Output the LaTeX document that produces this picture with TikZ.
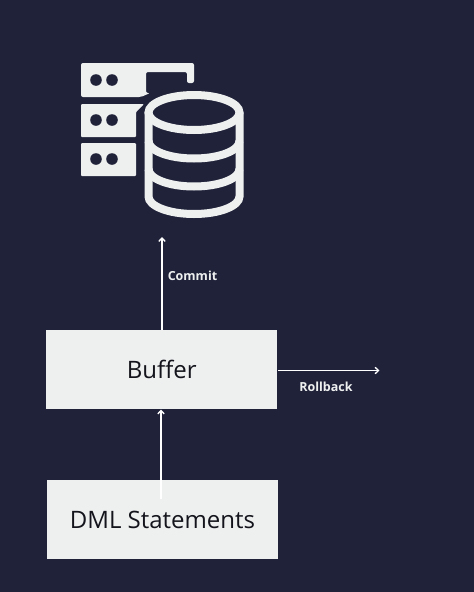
\documentclass[tikz,border=0pt]{standalone}
\usepackage{fontspec}
\setmainfont{Open Sans}
\usetikzlibrary{arrows.meta}
\definecolor{bg}{HTML}{20223A}
\definecolor{pale}{HTML}{EEF0F0}
\definecolor{ink}{HTML}{14141C}
\tikzset{
  box/.style={fill=pale,draw=none,text=ink,inner sep=0pt,minimum width=231pt,minimum height=79pt,font=\fontsize{24}{28}\selectfont},
  lab/.style={text=pale,inner sep=0pt,font=\fontsize{12.5}{14}\selectfont\bfseries},
  conn/.style={draw=white,line width=1.6pt,-{Straight Barb[length=3.5pt,width=6.5pt,line width=1.3pt]}},
  icon/.style={fill=pale,draw=none},
  cyl/.style={draw=pale,line width=8pt,fill=none}
}
\begin{document}
\begin{tikzpicture}[x=1pt,y=-1pt]
\useasboundingbox (0,0) rectangle (474,592);
\fill[bg] (0,0) rectangle (474,592);
% server icon
\fill[icon,rounded corners=2pt] (81,97) -- (81,63) -- (194,63) -- (194,83) -- (187,83) -- (187,72) -- (146,72) -- (146,93) -- (150,93) -- (141,97) -- cycle;
\fill[icon,rounded corners=1pt] (81,137) -- (81,104) -- (144,104) -- (136,112) -- (136,137) -- cycle;
\fill[icon,rounded corners=1pt] (81,176) -- (81,143) -- (136,143) -- (136,176) -- cycle;
\foreach \yy in {80,120,159}{
  \fill[bg] (96,\yy) circle (5.8);
  \fill[bg] (112,\yy) circle (5.8);
}
% cylinder
\fill[bg] (194,112.5) ellipse (45.5 and 17.5);
\fill[bg] (148,112) rectangle (240,196);
\fill[bg] (148,196) arc[start angle=180,end angle=0,x radius=46,y radius=-18] -- cycle;
\draw[cyl] (194,112.5) ellipse (45.5 and 17.5);
\draw[cyl] (148.5,112.5) -- (148.5,196.5) arc[start angle=180,end angle=360,x radius=45.5,y radius=-17.5] -- (239.5,112.5);
\draw[cyl] (148.5,141) arc[start angle=180,end angle=360,x radius=45.5,y radius=-17.5];
\draw[cyl] (148.5,169) arc[start angle=180,end angle=360,x radius=45.5,y radius=-17.5];
% boxes
\node[box] (buffer) at (161.7,369.8) {Buffer};
\node[box] (dml) at (162.5,519.5) {\raisebox{-1.5pt}{DML Statements}};
\coordinate (dbin) at (162,237);
\coordinate (rbend) at (379.5,370.5);
\coordinate (dmlstart) at (161,499);
\coordinate (bufin) at (161,409.5);
\coordinate (bufout) at (162,330);
\coordinate (bufright) at (278,370.5);
% connectors
\draw[conn] (bufout) -- (dbin);
\draw[conn] (bufright) -- (rbend);
\draw[conn] (dmlstart) -- (bufin);
% labels
\node[lab] (commit) at (192.5,276) {Commit};
\node[lab] (rollback) at (326,386.5) {Rollback};
\end{tikzpicture}
\end{document}
